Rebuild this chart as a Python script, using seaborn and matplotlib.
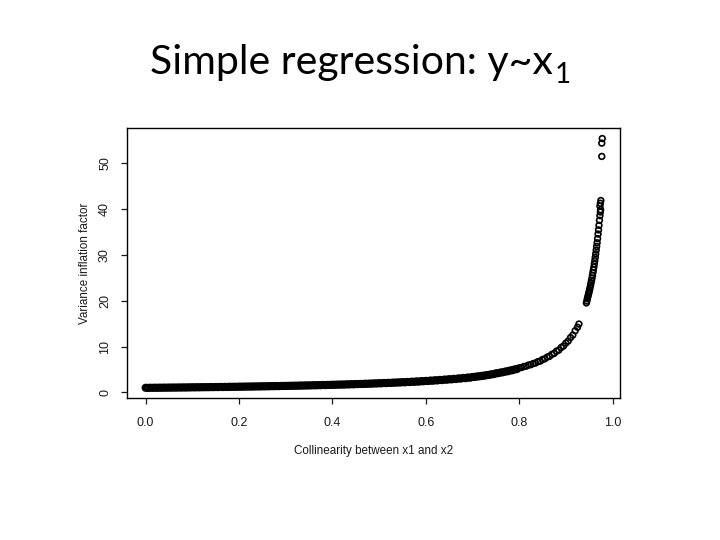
import numpy as np
import pandas as pd
import matplotlib
matplotlib.use("Agg")
import matplotlib.pyplot as plt
import seaborn as sns

# Punkter (kollinearitet mot VIF)
collin_low = [
    0.000, 0.005, 0.010, 0.015, 0.020, 0.025, 0.030, 0.035, 0.040, 0.045,
    0.050, 0.055, 0.060, 0.065, 0.070, 0.075, 0.080, 0.085, 0.090, 0.095,
    0.100, 0.105, 0.110, 0.115, 0.120, 0.125, 0.130, 0.135, 0.140, 0.145,
    0.150, 0.155, 0.160, 0.165, 0.170, 0.175, 0.180, 0.185, 0.190, 0.195,
    0.200, 0.205, 0.210, 0.215, 0.220, 0.225, 0.230, 0.235, 0.240, 0.245,
    0.250, 0.255, 0.260, 0.265, 0.270, 0.275, 0.280, 0.285, 0.290, 0.295,
    0.300, 0.305, 0.310, 0.315, 0.320, 0.325, 0.330, 0.335, 0.340, 0.345,
    0.350, 0.355, 0.360, 0.365, 0.370, 0.375, 0.380, 0.385, 0.390, 0.395,
    0.400, 0.405, 0.410, 0.415, 0.420, 0.425, 0.430, 0.435, 0.440, 0.445,
    0.450, 0.455, 0.460, 0.465, 0.470, 0.475, 0.480, 0.485, 0.490, 0.495,
    0.500, 0.505, 0.510, 0.515, 0.520, 0.525, 0.530, 0.535, 0.540, 0.545,
    0.550, 0.555, 0.560, 0.565, 0.570, 0.575, 0.580, 0.585, 0.590, 0.595,
    0.600, 0.605, 0.610, 0.615, 0.620, 0.625, 0.630, 0.635, 0.640, 0.645,
    0.650, 0.655, 0.660, 0.665, 0.670, 0.675, 0.680, 0.685, 0.690, 0.695,
    0.700, 0.705, 0.710, 0.715, 0.720, 0.725, 0.730, 0.735, 0.740, 0.745,
    0.750, 0.755, 0.760, 0.765, 0.770, 0.775, 0.780, 0.785, 0.790, 0.795,
    0.800, 0.805, 0.810, 0.815, 0.820, 0.825, 0.830, 0.835, 0.840, 0.845,
    0.850, 0.855, 0.860, 0.865, 0.870, 0.875, 0.880, 0.885, 0.890, 0.895,
    0.900, 0.905, 0.910, 0.915, 0.920, 0.925, 0.928,
]
vif_low = [
    1.02, 1.00, 1.03, 1.01, 1.04, 1.02, 1.05, 1.03, 1.06, 1.04,
    1.07, 1.05, 1.08, 1.06, 1.09, 1.07, 1.10, 1.08, 1.11, 1.10,
    1.13, 1.11, 1.14, 1.12, 1.15, 1.14, 1.16, 1.15, 1.18, 1.16,
    1.19, 1.17, 1.21, 1.19, 1.22, 1.20, 1.24, 1.22, 1.25, 1.23,
    1.27, 1.25, 1.28, 1.27, 1.30, 1.28, 1.31, 1.30, 1.33, 1.31,
    1.35, 1.33, 1.36, 1.35, 1.38, 1.37, 1.40, 1.38, 1.42, 1.41,
    1.44, 1.43, 1.46, 1.45, 1.48, 1.47, 1.51, 1.49, 1.53, 1.52,
    1.55, 1.54, 1.58, 1.56, 1.60, 1.59, 1.63, 1.61, 1.65, 1.64,
    1.68, 1.67, 1.71, 1.70, 1.74, 1.72, 1.77, 1.75, 1.80, 1.78,
    1.83, 1.82, 1.87, 1.85, 1.90, 1.89, 1.94, 1.92, 1.98, 1.96,
    2.02, 2.00, 2.06, 2.04, 2.10, 2.08, 2.15, 2.13, 2.19, 2.18,
    2.24, 2.22, 2.29, 2.27, 2.35, 2.32, 2.40, 2.37, 2.46, 2.44,
    2.52, 2.50, 2.59, 2.56, 2.66, 2.63, 2.73, 2.70, 2.81, 2.78,
    2.89, 2.85, 2.97, 2.94, 3.06, 3.03, 3.16, 3.12, 3.26, 3.22,
    3.37, 3.39, 3.49, 3.52, 3.62, 3.66, 3.77, 3.82, 3.94, 3.99,
    4.16, 4.21, 4.34, 4.40, 4.55, 4.61, 4.77, 4.84, 5.01, 5.09,
    5.36, 5.43, 5.65, 5.72, 5.96, 6.05, 6.31, 6.41, 6.71, 6.83,
    7.18, 7.33, 7.70, 7.87, 8.30, 8.50, 8.99, 9.24, 9.80, 10.12,
    10.75, 11.20, 11.95, 12.50, 13.45, 14.20, 14.90,
]

collin_high = [
    0.944, 0.945, 0.946, 0.947, 0.948, 0.949, 0.950, 0.951, 0.952, 0.953,
    0.954, 0.955, 0.956, 0.957, 0.958, 0.959, 0.960, 0.961, 0.962, 0.963,
    0.964, 0.965, 0.966, 0.967, 0.968, 0.969, 0.970, 0.971, 0.972, 0.973,
    0.974, 0.9745, 0.973, 0.974, 0.975,
]
vif_high = [
    19.5, 19.9, 20.4, 20.8, 21.2, 21.6, 22.0, 22.4, 22.9, 23.4,
    23.9, 24.4, 24.9, 25.5, 26.1, 26.7, 27.3, 28.0, 28.7, 29.4,
    30.2, 31.0, 31.8, 32.6, 33.5, 34.5, 35.4, 36.4, 37.5, 38.5,
    39.3, 39.8, 40.6, 41.2, 41.8,
]

collin_top = [0.977, 0.977, 0.978]
vif_top = [51.4, 54.3, 55.3]

df = pd.DataFrame({
    "collin": collin_low + collin_high + collin_top,
    "vif": vif_low + vif_high + vif_top,
})

sns.set_style("ticks")
plt.rcParams["font.family"] = ["Liberation Sans", "DejaVu Sans"]

fig = plt.figure(figsize=(7.2, 5.4), dpi=100)
fig.patch.set_facecolor("white")
ax = fig.add_axes([0.1764, 0.263, 0.6847, 0.5])

# Täta delen nere till vänster ser helsvart ut i originalet -> tjockare kant
dense = df[df["collin"] < 0.8]
sparse = df[df["collin"] >= 0.8]
sns.scatterplot(data=dense, x="collin", y="vif", ax=ax, marker="o", s=17,
                facecolor="none", edgecolor="black", linewidth=1.8)
sns.scatterplot(data=sparse, x="collin", y="vif", ax=ax, marker="o", s=17,
                facecolor="none", edgecolor="black", linewidth=1.2)

ax.set_xlim(-0.04, 1.016)
ax.set_ylim(-1.2, 57.6)
ax.set_xticks([0.0, 0.2, 0.4, 0.6, 0.8, 1.0])
ax.set_xticklabels(["0.0", "0.2", "0.4", "0.6", "0.8", "1.0"])
ax.set_yticks([0, 10, 20, 30, 40, 50])

for s in ax.spines.values():
    s.set_visible(True)
    s.set_color("black")
    s.set_linewidth(1.0)

ax.tick_params(axis="both", direction="out", length=4.5, width=0.9,
               labelsize=9, colors="#1a1a1a")
ax.tick_params(axis="x", pad=9)
ax.tick_params(axis="y", pad=7)
for lab in ax.get_yticklabels():
    lab.set_rotation(90)
    lab.set_va("center")

ax.set_xlabel("Collinearity between x1 and x2", fontsize=8.4, labelpad=12, color="#1a1a1a")
ax.set_ylabel("Variance inflation factor", fontsize=8.4, labelpad=6, color="#1a1a1a")

# Rubrik med nedsänkt "1"
main = fig.text(0, 0, "Simple regression: y~x", fontsize=29.5, family="Lato", color="black")
sub = fig.text(0, 0, "1", fontsize=20, family="Lato", color="black")
fig.canvas.draw()
r = fig.canvas.get_renderer()
w_main = main.get_window_extent(r).width
w_sub = sub.get_window_extent(r).width
total = w_main + 2 + w_sub
x0 = (720 - total) / 2
main.set_position((x0 / 720, 466 / 540))
main.set_va("baseline")
sub.set_position(((x0 + w_main + 2) / 720, 457 / 540))
sub.set_va("baseline")

fig.savefig("out.png", dpi=100, facecolor="white")
